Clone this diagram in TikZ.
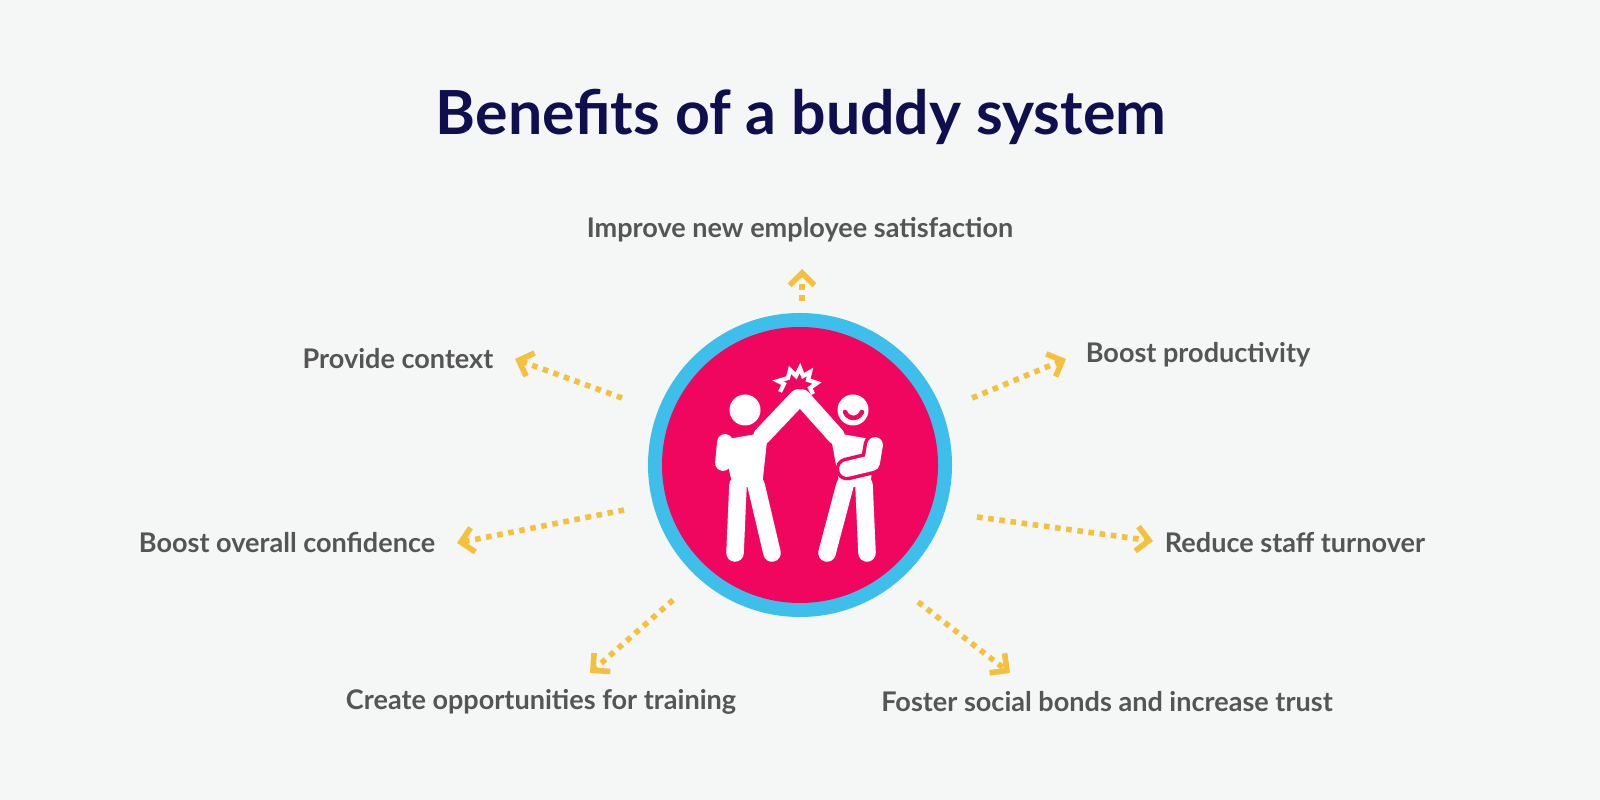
\documentclass[tikz,border=0pt]{standalone}
\usepackage{fontspec}
\setmainfont{Lato}
\usetikzlibrary{arrows.meta}
\definecolor{bgColor}{HTML}{F5F7F6}
\definecolor{titleColor}{HTML}{0F0F4F}
\definecolor{textColor}{HTML}{555555}
\definecolor{arrowColor}{HTML}{F4C03E}
\definecolor{ringColor}{HTML}{3DBEEB}
\definecolor{pinkColor}{HTML}{F0065F}
\tikzset{
  benefit/.style={text=textColor, font=\fontsize{7.7}{9}\selectfont\bfseries},
  hint/.style={arrowColor, line width=1.6pt, dash pattern=on 1.6pt off 1.6pt,
    -{Straight Barb[length=3.5pt,width=7pt,line width=1.6pt]}},
  limb/.style={white, line cap=round, line join=round},
}
\begin{document}
\begin{tikzpicture}
\useasboundingbox (0,0) rectangle (16,8);
\fill[bgColor] (0,0) rectangle (16,8);
\node[titleColor, font=\fontsize{17.3}{21}\selectfont\bfseries] (title) at (8.01,6.83) {Benefits of a buddy system};
% circle
\fill[ringColor] (8.0,3.35) circle [radius=1.52];
\fill[pinkColor] (8.0,3.35) circle [radius=1.38];
% left person
\fill[white] (7.45,3.90) circle [radius=.155];
\fill[white, rounded corners=2pt] (7.22,3.60) -- (7.68,3.68) -- (7.62,3.13) -- (7.33,3.13) -- cycle;
\draw[limb, line width=5pt] (7.38,3.15) -- (7.35,2.47);
\draw[limb, line width=5pt] (7.56,3.15) -- (7.72,2.47);
\draw[limb, line width=4.5pt] (7.25,3.58) -- (7.23,3.37);
\draw[limb, line width=5pt] (7.62,3.64) -- (7.98,4.02);
% right person
\fill[white] (8.53,3.90) circle [radius=.155];
\draw[pinkColor, line width=1.3pt, line cap=round] (8.45,3.88) arc [start angle=200, end angle=340, radius=.09];
\fill[white, rounded corners=2pt] (8.30,3.68) -- (8.76,3.60) -- (8.70,3.13) -- (8.40,3.13) -- cycle;
\draw[limb, line width=5pt] (8.45,3.15) -- (8.27,2.47);
\draw[limb, line width=5pt] (8.64,3.15) -- (8.67,2.47);
\draw[limb, line width=5pt] (8.36,3.64) -- (8.02,4.02);
\draw[pinkColor, line width=6.5pt, line cap=round, line join=round] (8.75,3.55) -- (8.72,3.37) -- (8.47,3.31);
\draw[limb, line width=4.5pt] (8.75,3.55) -- (8.72,3.37) -- (8.47,3.31);
% spark
\draw[white, line width=1.2pt, line join=miter] (7.80,4.08) -- (7.84,4.16) -- (7.78,4.19) -- (7.88,4.22) -- (7.90,4.30) -- (7.96,4.24) -- (8.00,4.32) -- (8.03,4.24) -- (8.10,4.28) -- (8.08,4.20) -- (8.17,4.17) -- (8.10,4.12) -- (8.13,4.06);
% labels
\node[benefit] (satisf) at (8.00,5.70) {Improve new employee satisfaction};
\node[benefit] (context) at (3.98,4.41) {Provide context};
\node[benefit] (product) at (11.98,4.45) {Boost productivity};
\node[benefit] (confid) at (2.87,2.57) {Boost overall confidence};
\node[benefit] (turnover) at (12.95,2.57) {Reduce staff turnover};
\node[benefit] (training) at (5.41,0.98) {Create opportunities for training};
\node[benefit] (bonds) at (11.07,0.98) {Foster social bonds and increase trust};
% arrow ends
\coordinate (s1) at (8.02,4.99); \coordinate (e1) at (8.02,5.31);
\coordinate (s2) at (6.22,4.02); \coordinate (e2) at (5.15,4.41);
\coordinate (s3) at (9.72,4.02); \coordinate (e3) at (10.66,4.41);
\coordinate (s4) at (6.24,2.90); \coordinate (e4) at (4.57,2.57);
\coordinate (s5) at (9.77,2.83); \coordinate (e5) at (11.53,2.59);
\coordinate (s6) at (6.73,2.00); \coordinate (e6) at (5.90,1.27);
\coordinate (s7) at (9.18,1.98); \coordinate (e7) at (10.10,1.27);
\foreach \i in {1,...,7}
  \draw[hint] (s\i) -- (e\i);
\end{tikzpicture}
\end{document}
